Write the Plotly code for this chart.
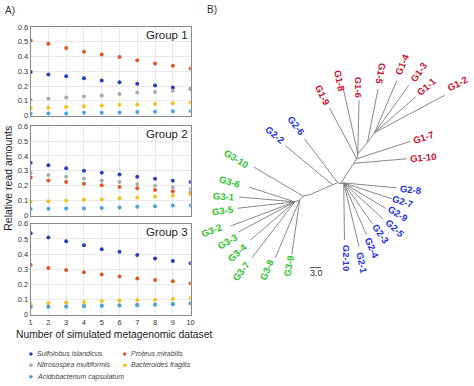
import plotly.graph_objects as go

# ---------------- Panel A data ----------------
datasets = [1, 2, 3, 4, 5, 6, 7, 8, 9, 10]
species = ["Sulfolobus islandicus", "Proteus mirabilis", "Nitrosospira multiformis",
           "Bacteroides fragilis", "Acidobacterium capsulatum"]
species_colors = ["#2b3fbf", "#e4562b", "#a3b1aa", "#f4c21c", "#4ba3e0"]

group1_sulfolobus = [0.295, 0.279, 0.266, 0.253, 0.237, 0.226, 0.215, 0.204, 0.191, 0.180]
group1_proteus = [0.508, 0.486, 0.457, 0.433, 0.413, 0.396, 0.374, 0.352, 0.338, 0.319]
group1_nitrosospira = [0.108, 0.116, 0.123, 0.130, 0.136, 0.147, 0.156, 0.160, 0.169, 0.178]
group1_bacteroides = [0.050, 0.053, 0.059, 0.064, 0.068, 0.073, 0.075, 0.079, 0.084, 0.088]
group1_acidobacterium = [0.013, 0.015, 0.015, 0.020, 0.020, 0.022, 0.024, 0.026, 0.029, 0.031]

group2_sulfolobus = [0.354, 0.338, 0.317, 0.301, 0.288, 0.275, 0.260, 0.247, 0.234, 0.225]
group2_proteus = [0.255, 0.236, 0.225, 0.214, 0.203, 0.192, 0.183, 0.172, 0.164, 0.151]
group2_nitrosospira = [0.285, 0.273, 0.260, 0.249, 0.236, 0.225, 0.212, 0.200, 0.190, 0.179]
group2_bacteroides = [0.094, 0.096, 0.100, 0.107, 0.109, 0.116, 0.122, 0.129, 0.135, 0.144]
group2_acidobacterium = [0.044, 0.046, 0.048, 0.048, 0.052, 0.055, 0.059, 0.063, 0.068, 0.068]

group3_sulfolobus = [0.538, 0.510, 0.485, 0.459, 0.432, 0.415, 0.394, 0.372, 0.355, 0.340]
group3_proteus = [0.330, 0.309, 0.296, 0.281, 0.266, 0.253, 0.240, 0.230, 0.221, 0.206]
group3_nitrosospira = [0.060, 0.055, 0.055, 0.060, 0.062, 0.064, 0.068, 0.070, 0.074, 0.079]
group3_bacteroides = [0.072, 0.079, 0.081, 0.085, 0.091, 0.094, 0.098, 0.100, 0.104, 0.111]
group3_acidobacterium = [0.052, 0.053, 0.055, 0.057, 0.059, 0.061, 0.063, 0.066, 0.070, 0.075]

groups = [
    ("Group 1", [group1_sulfolobus, group1_proteus, group1_nitrosospira, group1_bacteroides, group1_acidobacterium]),
    ("Group 2", [group2_sulfolobus, group2_proteus, group2_nitrosospira, group2_bacteroides, group2_acidobacterium]),
    ("Group 3", [group3_sulfolobus, group3_proteus, group3_nitrosospira, group3_bacteroides, group3_acidobacterium]),
]
y_ticks = [0, 0.1, 0.2, 0.3, 0.4, 0.5, 0.6]
y_tick_labels = ["0", "0.1", "0.2", "0.3", "0.4", "0.5", "0.6"]

# ---------------- Panel B data (unrooted tree, branch-length units) ----------------
tree_nodes = {
    "R": (0.0, 0.0), "A1": (3.4, 5.4), "A2": (4.2, 6.6), "A3": (4.5, 7.9), "A4": (7.0, 10.9), "A5": (8.9, 13.5),
    "B": (0.8, 0.2), "C6": (-0.8, 0.3), "C2": (-2.1, -0.3), "E": (-7.8, -2.8),
    "D1": (-9.8, -3.3), "D2": (-10.7, -4.3), "D3": (-12.0, -4.8),
}
leaf_names = ["G1-10", "G1-7", "G1-9", "G1-8", "G1-6", "G1-5", "G1-4", "G1-3", "G1-1", "G1-2",
              "G2-8", "G2-7", "G2-9", "G2-5", "G2-3", "G2-4", "G2-1", "G2-10", "G2-6", "G2-2",
              "G3-10", "G3-6", "G3-1", "G3-5", "G3-2", "G3-3", "G3-4", "G3-7", "G3-8", "G3-9"]
leaf_parent = ["A1", "A2", "A2", "A3", "A3", "A4", "A5", "A5", "A5", "A5",
               "B", "B", "B", "B", "B", "B", "B", "B", "C6", "C2",
               "D1", "D3", "D3", "D3", "D3", "D3", "D3", "D3", "D2", "D2"]
leaf_x = [17.3, 18.2, -2.9, 0.5, 4.8, 9.8, 14.7, 17.8, 19.7, 27.2,
          14.7, 13.4, 11.7, 11.1, 8.3, 6.8, 4.8, 1.0, -9.4, -14.5,
          -22.7, -24.0, -26.6, -27.0, -28.8, -26.6, -23.6, -23.2, -17.1, -12.8]
leaf_y = [6.6, 11.2, 20.0, 26.0, 22.1, 25.1, 27.3, 26.0, 23.0, 23.4,
          -1.1, -4.0, -6.5, -9.3, -10.6, -13.6, -16.6, -14.9, 11.8, 10.1,
          4.4, -0.9, -3.5, -6.5, -11.2, -12.7, -14.9, -19.6, -19.6, -18.8]
label_x = [21.6, 21.6, -4.65, -0.3, 4.6, 10.6, 16.0, 20.3, 22.5, 30.6,
           18.2, 16.3, 14.9, 14.3, 10.4, 8.3, 5.5, 1.4, -11.6, -17.3,
           -27.5, -29.2, -30.5, -30.9, -33.9, -29.6, -27.1, -26.2, -19.3, -13.7]
label_y = [6.9, 12.1, 23.4, 27.3, 25.6, 29.0, 31.6, 29.5, 25.6, 26.4,
           -1.4, -4.8, -8.0, -11.9, -13.2, -17.1, -20.9, -19.6, 15.5, 12.9,
           6.6, 0.6, -3.3, -7.2, -12.3, -15.3, -18.1, -23.1, -22.7, -21.8]
label_angle = [-6, -18, 64, 78, 90, 100, -67, -55, -41, -28,
               5, 18, 32, 43, 55, 66, 78, 90, 53, 40,
               31, 17, 4, -8, -21, -30, -42, -53, -67, -79]
internal_edges = [("R", "A1"), ("A1", "A2"), ("A2", "A3"), ("A3", "A4"), ("A4", "A5"),
                  ("R", "B"), ("R", "C6"), ("C6", "C2"), ("C2", "E"), ("E", "D1"),
                  ("D1", "D2"), ("D2", "D3")]
group_colors = {"G1": "#c8102e", "G2": "#2430e0", "G3": "#2ec42e"}
scale_bar_length = 3.0
scale_bar_origin = (-8.1, -22.2)

# ---------------- Layout geometry ----------------
W, H = 474, 386
x_dom = [29 / W, 191 / W]
y_doms = [[1 - 114.3 / H, 1 - 23.5 / H], [1 - 216.7 / H, 1 - 125 / H], [1 - 318.3 / H, 1 - 225 / H]]

fig = go.Figure()
FONT = "Liberation Sans, Arial, sans-serif"

for gi, (gname, series) in enumerate(groups):
    ax = "" if gi == 0 else str(gi + 1)
    for si, vals in enumerate(series):
        fig.add_trace(go.Scatter(
            x=datasets, y=vals, mode="markers", xaxis="x" + ax, yaxis="y" + ax,
            marker=dict(color=species_colors[si], size=4), showlegend=False,
            name=species[si], cliponaxis=True))
    axis_common = dict(showline=True, mirror=True, linecolor="#8a8a8a", linewidth=1,
                       gridcolor="#e9e9e9", zeroline=False, ticks="", ticklen=0,
                       tickfont=dict(size=7.5, color="#333", family=FONT))
    fig.layout["xaxis" + ax] = dict(axis_common, domain=x_dom, range=[1, 10], tickvals=datasets,
                                   showticklabels=(gi == 2), anchor="y" + ax)
    fig.layout["yaxis" + ax] = dict(axis_common, domain=y_doms[gi], range=[0, 0.6], tickvals=y_ticks,
                                   ticktext=y_tick_labels, anchor="x" + ax)
    fig.add_annotation(text=gname, xref=("x" + ax + " domain"), yref=("y" + ax + " domain"),
                       x=0.995, y=1.0, xanchor="right", yanchor="top", showarrow=False,
                       font=dict(size=11.5, color="#222", family=FONT))

# Tree
tx, ty = [], []
for a, b in internal_edges:
    tx += [tree_nodes[a][0], tree_nodes[b][0], None]
    ty += [tree_nodes[a][1], tree_nodes[b][1], None]
for i, name in enumerate(leaf_names):
    p = tree_nodes[leaf_parent[i]]
    tx += [p[0], leaf_x[i], None]
    ty += [p[1], leaf_y[i], None]
fig.add_trace(go.Scatter(x=tx, y=ty, mode="lines", xaxis="x4", yaxis="y4",
                         line=dict(color="#7a7a7a", width=0.9), showlegend=False, hoverinfo="skip"))
fig.add_trace(go.Scatter(x=[scale_bar_origin[0], scale_bar_origin[0] + scale_bar_length],
                         y=[scale_bar_origin[1], scale_bar_origin[1]], mode="lines",
                         xaxis="x4", yaxis="y4", line=dict(color="#555", width=1),
                         showlegend=False, hoverinfo="skip"))
u = 3.87  # px per branch unit
fig.layout["xaxis4"] = dict(domain=[208.6 / W, 1], range=[(208.6 - 343) / u, (474 - 343) / u],
                            visible=False, anchor="y4")
fig.layout["yaxis4"] = dict(domain=[0, 1], range=[(184 - 386) / u, 184 / u], visible=False, anchor="x4")
for i, name in enumerate(leaf_names):
    fig.add_annotation(text="<b>" + name + "</b>", x=label_x[i], y=label_y[i], xref="x4", yref="y4",
                       xanchor="center", yanchor="middle",
                       textangle=label_angle[i], showarrow=False,
                       font=dict(size=9.5, color=group_colors[name[:2]], family=FONT))
fig.add_annotation(text="3.0", x=scale_bar_origin[0] + scale_bar_length / 2 + 0.3,
                   y=scale_bar_origin[1] - 1.4, xref="x4", yref="y4", showarrow=False,
                   xanchor="center", yanchor="middle",
                   font=dict(size=9, color="#333", family=FONT))

# Titles and panel letters
fig.add_annotation(text="Relative read amounts", xref="paper", yref="paper", x=6 / W, y=1 - 178 / H,
                   xanchor="center", yanchor="middle",
                   textangle=-90, showarrow=False, font=dict(size=10.5, color="#222", family=FONT))
fig.add_annotation(text="Number of simulated metagenomic dataset", xref="paper", yref="paper",
                   x=113 / W, y=1 - 338 / H, showarrow=False, xanchor="center", yanchor="middle",
                   font=dict(size=10.3, color="#222", family=FONT))
fig.add_annotation(text="A)", xref="paper", yref="paper", x=1 / W, y=1 - 7 / H, xanchor="left",
                   yanchor="middle", showarrow=False, font=dict(size=10, color="#333", family=FONT))
fig.add_annotation(text="B)", xref="paper", yref="paper", x=206 / W, y=1 - 6 / H, xanchor="left",
                   yanchor="middle", showarrow=False, font=dict(size=10, color="#333", family=FONT))

# Legend (manual, two columns)
legend_pos = [(29.3, 358.3), (124.3, 358.3), (29.3, 370), (124.3, 370), (29.3, 381.7)]
shapes = []
r = 1.8
for i, sp in enumerate(species):
    lx, ly = legend_pos[i]
    shapes.append(dict(type="circle", xref="paper", yref="paper",
                       x0=(lx - r) / W, x1=(lx + r) / W, y0=1 - (ly + r) / H, y1=1 - (ly - r) / H,
                       fillcolor=species_colors[i], line=dict(width=0)))
    fig.add_annotation(text="<i>" + sp + "</i>", xref="paper", yref="paper", x=(lx + 4) / W, y=1 - ly / H,
                       xanchor="left", yanchor="middle", showarrow=False,
                       font=dict(size=7, color="#444", family=FONT))
fig.update_layout(shapes=shapes)

fig.update_layout(width=W, height=H, margin=dict(l=0, r=0, t=0, b=0),
                  paper_bgcolor="white", plot_bgcolor="white", showlegend=False)
fig.write_html("out.html", config={"displayModeBar": False},
               post_script="document.body.style.margin='0px';")
